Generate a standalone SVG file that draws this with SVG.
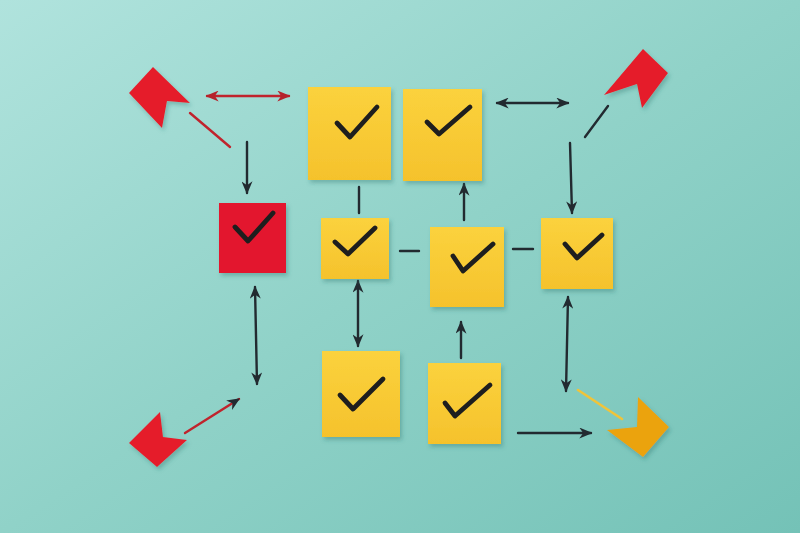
<svg xmlns="http://www.w3.org/2000/svg" width="800" height="533" viewBox="0 0 800 533">
<defs>
<linearGradient id="bg" x1="0" y1="0" x2="1" y2="1">
<stop offset="0" stop-color="#b0e3dd"/>
<stop offset="0.5" stop-color="#90d2c8"/>
<stop offset="1" stop-color="#74c2b7"/>
</linearGradient>
<linearGradient id="yel" x1="0" y1="0" x2="0" y2="1">
<stop offset="0" stop-color="#fbd23d"/>
<stop offset="1" stop-color="#f5c22c"/>
</linearGradient>
<filter id="sh" x="-20%" y="-20%" width="150%" height="150%">
<feDropShadow dx="2" dy="3" stdDeviation="2" flood-color="#2f6f66" flood-opacity="0.35"/>
</filter>
<marker id="ah" viewBox="0 0 10 10" refX="9" refY="5" markerWidth="13" markerHeight="11" markerUnits="userSpaceOnUse" orient="auto-start-reverse" preserveAspectRatio="none">
<path d="M0,0 L10,5 L0,10 L3,5 Z" fill="#222a30"/>
</marker>
<marker id="ahr" viewBox="0 0 10 10" refX="9" refY="5" markerWidth="13" markerHeight="11" markerUnits="userSpaceOnUse" orient="auto-start-reverse" preserveAspectRatio="none">
<path d="M0,0 L10,5 L0,10 L3,5 Z" fill="#b5222b"/>
</marker>
</defs>
<style>
.note{fill:url(#yel);filter:url(#sh)}
.rnote{fill:#e3182e;filter:url(#sh)}
.chk{fill:none;stroke:#1e1e1e;stroke-width:4.8;stroke-linecap:round;stroke-linejoin:round}
.ln{fill:none;stroke:#222a30;stroke-width:2.4;stroke-linecap:round}
.rln{fill:none;stroke:#c0232c;stroke-width:2.4;stroke-linecap:round}
.yln{fill:none;stroke:#f0c43a;stroke-width:2.6;stroke-linecap:round}
.flag{fill:#e51e2c;filter:url(#sh)}
.oflag{fill:#eba30f;filter:url(#sh)}
</style>
<rect width="800" height="533" fill="url(#bg)"/>

<g id="connectors">
<line class="rln" x1="207" y1="96" x2="289" y2="96" marker-start="url(#ahr)" marker-end="url(#ahr)"/>
<line class="rln" x1="190" y1="113" x2="230" y2="147"/>
<line class="ln" x1="247" y1="142" x2="247" y2="193" marker-end="url(#ah)"/>
<line class="ln" x1="497" y1="103" x2="568" y2="103" marker-start="url(#ah)" marker-end="url(#ah)"/>
<line class="ln" x1="608" y1="106" x2="585" y2="137"/>
<line class="ln" x1="570" y1="143" x2="572" y2="213" marker-end="url(#ah)"/>
<line class="ln" x1="359" y1="187" x2="359" y2="213"/>
<line class="ln" x1="400" y1="251" x2="419" y2="251"/>
<line class="ln" x1="513" y1="249" x2="533" y2="249"/>
<line class="ln" x1="464" y1="220" x2="464" y2="184" marker-end="url(#ah)"/>
<line class="ln" x1="358" y1="281" x2="358" y2="346" marker-start="url(#ah)" marker-end="url(#ah)"/>
<line class="ln" x1="461" y1="358" x2="461" y2="322" marker-end="url(#ah)"/>
<line class="ln" x1="255" y1="287" x2="257" y2="384" marker-start="url(#ah)" marker-end="url(#ah)"/>
<line class="ln" x1="568" y1="297" x2="566" y2="391" marker-start="url(#ah)" marker-end="url(#ah)"/>
<line class="ln" x1="518" y1="433" x2="591" y2="433" marker-end="url(#ah)"/>
<line class="rln" x1="185" y1="433" x2="239" y2="399" marker-end="url(#ah)"/>
<line class="yln" x1="578" y1="390" x2="622" y2="419"/>
</g>

<g id="flag-top-left"><polygon class="flag" points="129,93 153,67 190,103 167,101 162,128"/></g>
<g id="flag-top-right"><polygon class="flag" points="643,49 668,73 642,108 637,84 604,95"/></g>
<g id="flag-bottom-left"><polygon class="flag" points="160,412 163,437 187,440 157,467 129,443"/></g>
<g id="flag-bottom-right"><polygon class="oflag" points="638,397 637,427 607,430 643,457 669,427"/></g>

<g id="note-red"><rect class="rnote" x="219" y="203" width="67" height="70"/><polyline class="chk" points="235,227 248,241 273,213"/></g>
<g id="note-top-left"><rect class="note" x="308" y="87" width="83" height="93"/><polyline class="chk" points="337,123 350,137 377,107"/></g>
<g id="note-top-right"><rect class="note" x="403" y="89" width="79" height="92"/><polyline class="chk" points="427,122 439,134 470,107"/></g>
<g id="note-mid-left"><rect class="note" x="321" y="218" width="68" height="61"/><polyline class="chk" points="335,242 348,254 375,228"/></g>
<g id="note-center"><rect class="note" x="430" y="227" width="74" height="80"/><polyline class="chk" points="453,256 463,271 493,244"/></g>
<g id="note-right"><rect class="note" x="541" y="218" width="72" height="71"/><polyline class="chk" points="565,244 577,258 602,235"/></g>
<g id="note-bottom-left"><rect class="note" x="322" y="351" width="78" height="86"/><polyline class="chk" points="340,395 353,409 383,379"/></g>
<g id="note-bottom-right"><rect class="note" x="428" y="363" width="73" height="81"/><polyline class="chk" points="445,403 455,416 490,385"/></g>
</svg>
